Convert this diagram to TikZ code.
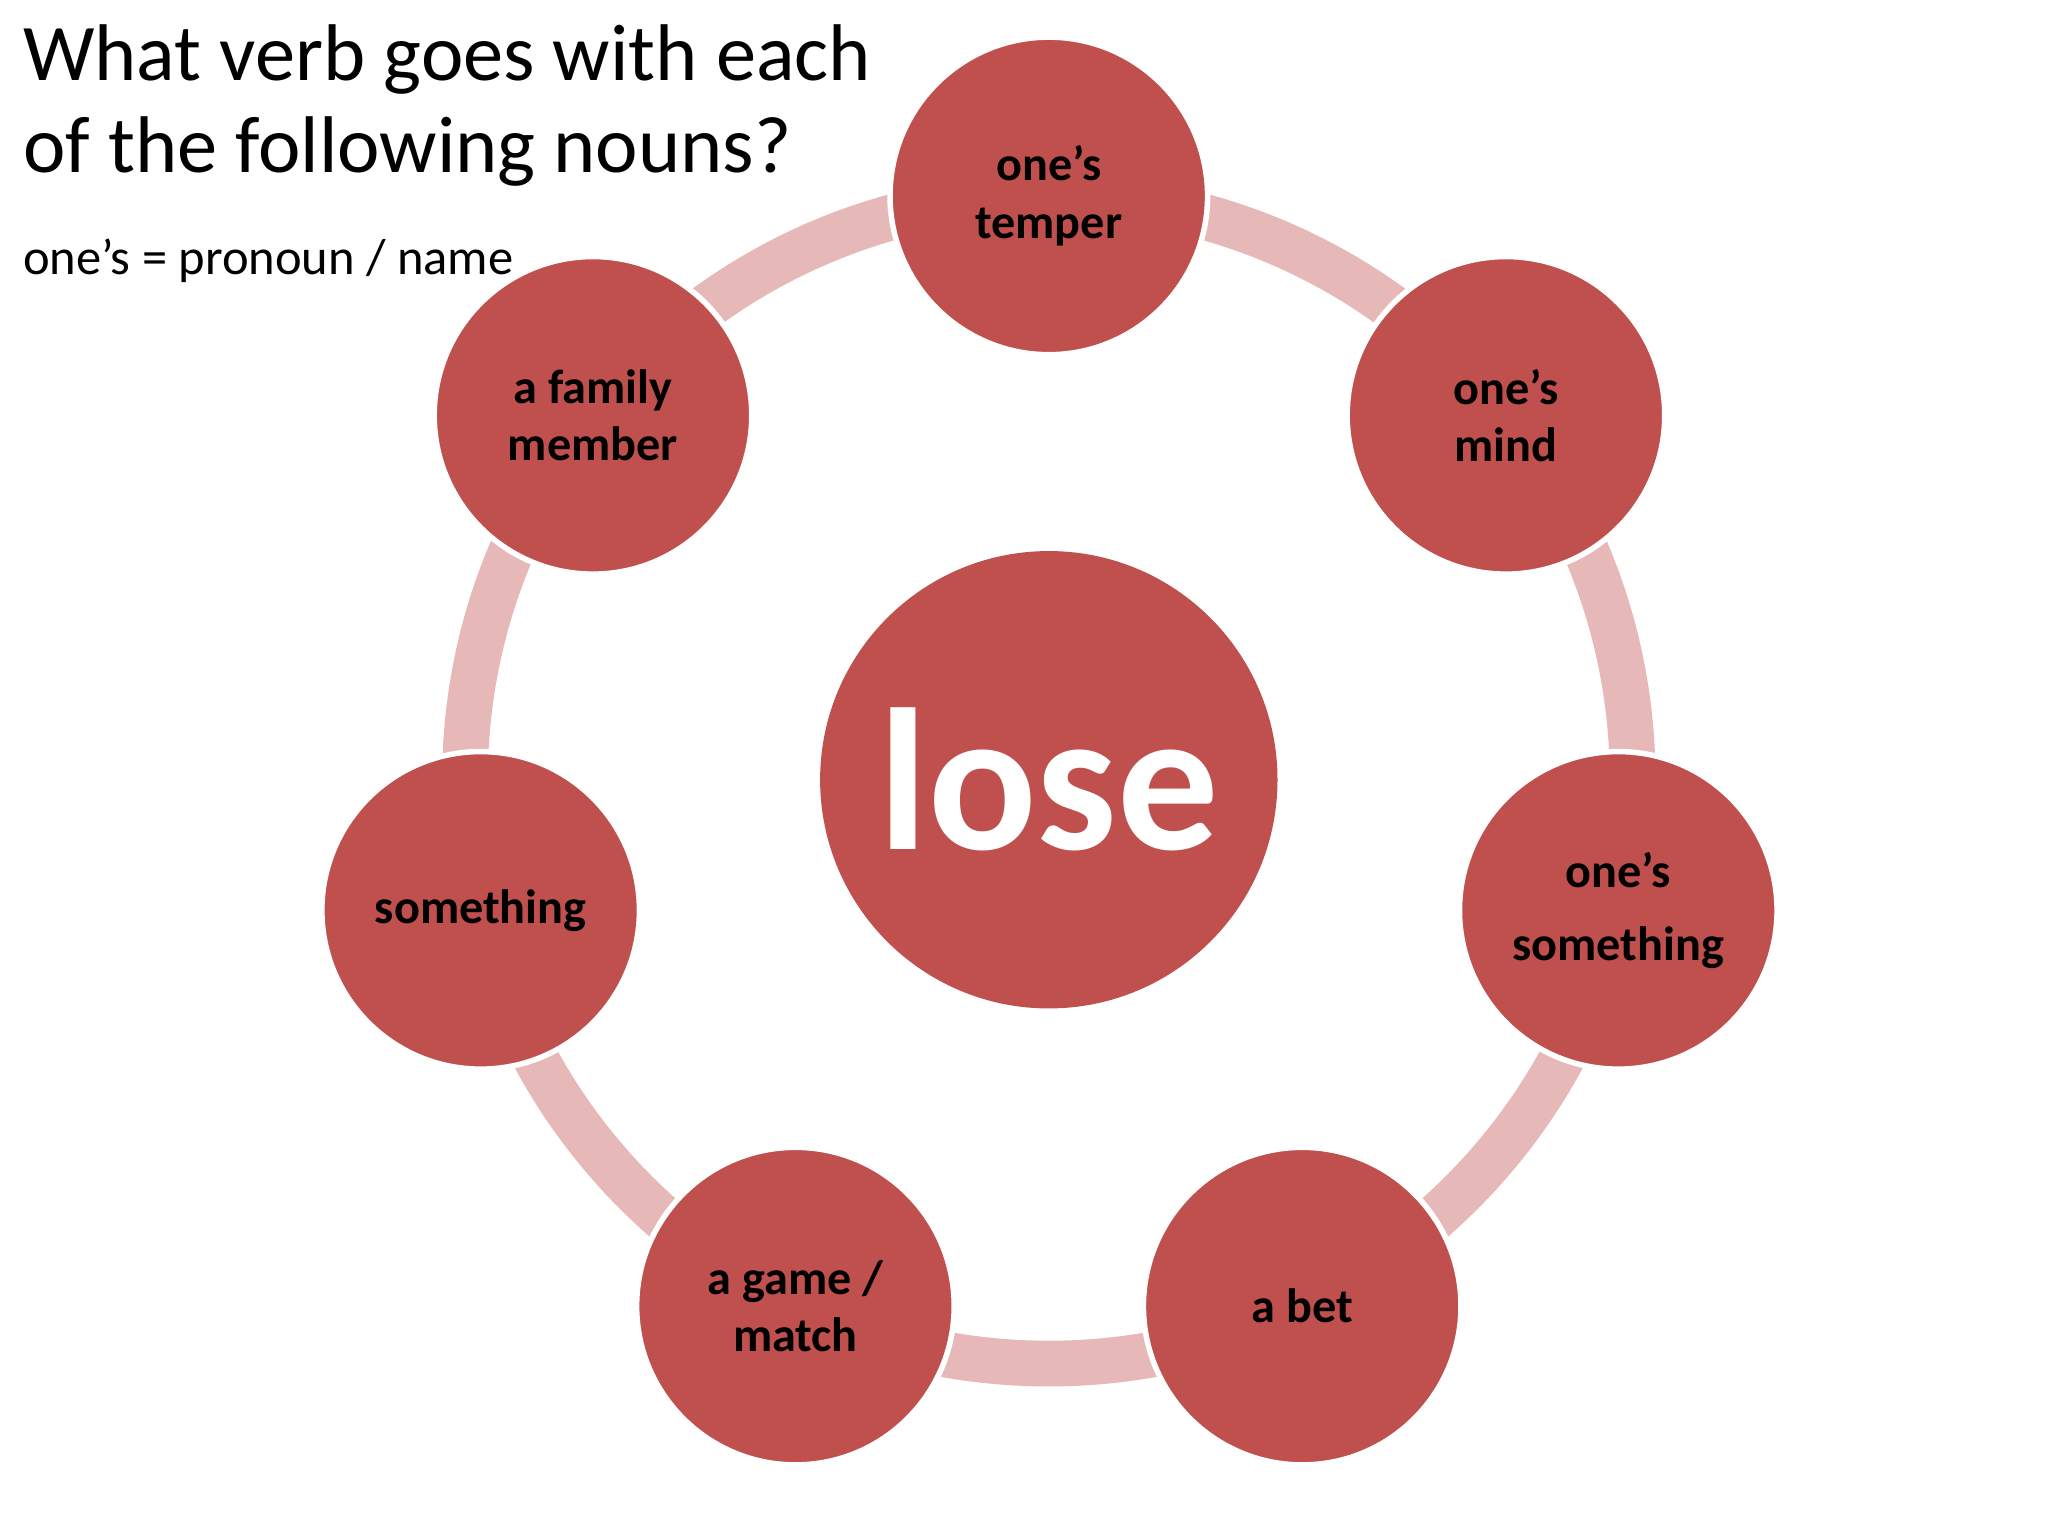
\documentclass[tikz,border=0pt]{standalone}
\usepackage{fontspec}
\setmainfont{Carlito}
\definecolor{cred}{HTML}{C0504D}
\definecolor{cring}{HTML}{E6B9B8}
\begin{document}
\begin{tikzpicture}[x=0.01cm,y=-0.01cm,
  sat/.style={circle,fill=cred,draw=white,line width=1.2pt,minimum size=2.43cm,inner sep=0pt,align=center,font=\bfseries\fontsize{10.5}{12.5}\selectfont},
  ring/.style={cring,line width=0.35cm}]
\useasboundingbox (0,0) rectangle (1568,1176);
\coordinate (c) at (803,597);
\draw[ring] (c) circle[radius=447];
\node[circle,fill=cred,minimum size=3.5cm,inner sep=0pt,text=white,font=\bfseries\fontsize{44}{50}\selectfont] (lose) at (c) {lose};
\node[sat] (t) at (803,150) {one’s\\temper};
\node[sat] (m) at (1153,318) {one’s\\mind};
\node[sat,font=\bfseries\fontsize{10.5}{16}\selectfont] (s) at (1239,697) {one’s\\something};
\node[sat] (b) at (997,1000) {a bet};
\node[sat] (g) at (609,1000) {a game /\\match};
\node[sat] (so) at (368,697) {something};
\node[sat] (f) at (454,318) {a family\\member};
\node[anchor=north west,align=left,font=\fontsize{17.5}{20}\selectfont,inner sep=0pt] (title) at (17,18) {What verb goes with each\\of the following nouns?};
\node[anchor=north west,font=\fontsize{11}{13}\selectfont,inner sep=0pt] (sub) at (17,182) {one’s = pronoun / name};
\end{tikzpicture}
\end{document}
